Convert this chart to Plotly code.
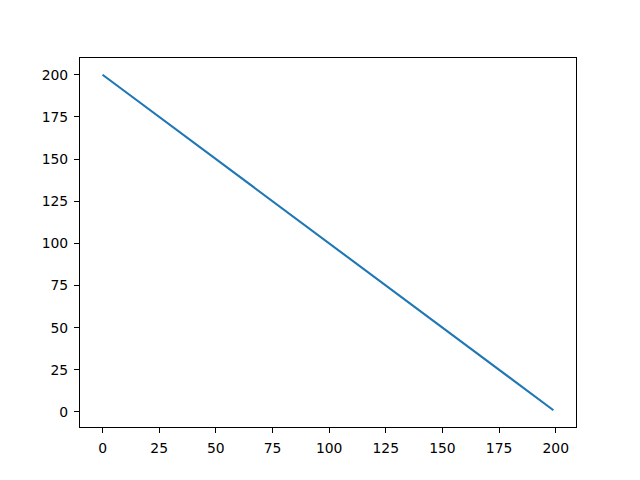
import plotly.graph_objects as go

# straight line: starts at (0, 200), ends at (199, 1)
x_vals = [0, 199]
y_vals = [200, 1]
tick_vals = [0, 25, 50, 75, 100, 125, 150, 175, 200]

fig = go.Figure()
fig.add_trace(go.Scatter(x=x_vals, y=y_vals, mode='lines',
                         line=dict(color='#1f77b4', width=2.1)))

axis_style = dict(
    showgrid=False, zeroline=False,
    showline=True, linecolor='black', linewidth=1.1, mirror=True,
    ticks='outside', ticklen=5, tickwidth=1.1, tickcolor='black',
    tickvals=tick_vals,
    tickfont=dict(family='DejaVu Sans', size=13.9, color='black'),
    ticklabelstandoff=3,
)

fig.update_xaxes(range=[-9.95, 208.95], **axis_style)
fig.update_yaxes(range=[-8.95, 209.95], **axis_style)

# page body adds 8px offset, margins compensate for it
fig.update_layout(
    width=640, height=480,
    margin=dict(l=72, r=72, t=50, b=61),
    plot_bgcolor='white', paper_bgcolor='white',
    showlegend=False,
)

fig.write_html("out.html")
